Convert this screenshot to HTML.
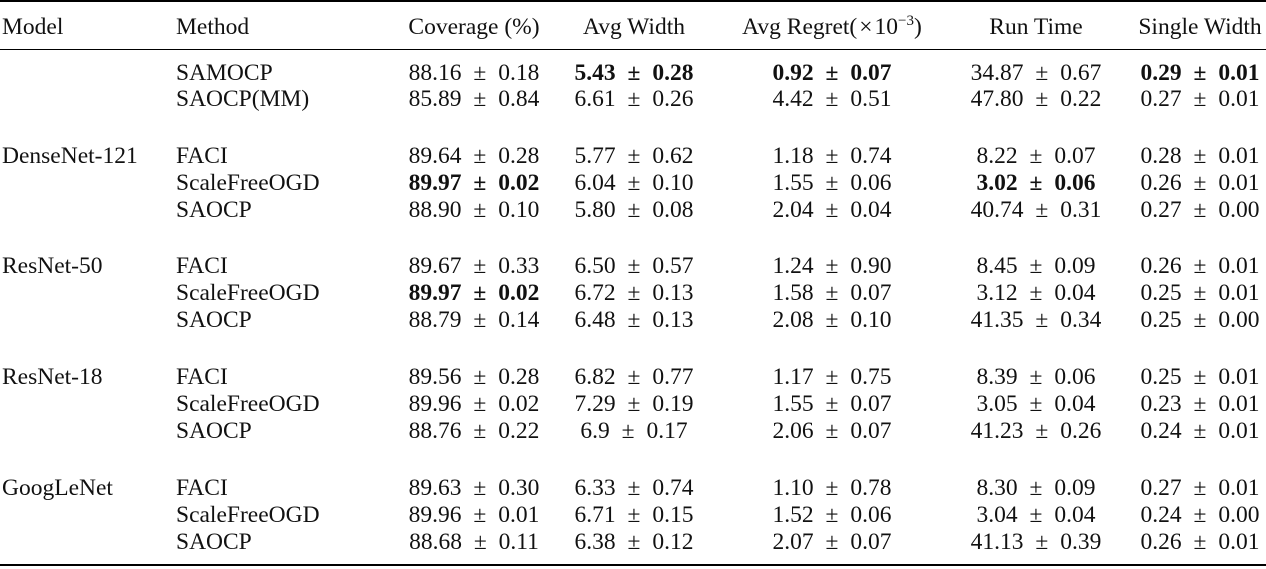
<!DOCTYPE html>
<html><head><style>
body{margin:0;width:1266px;height:569px;background:#fff;position:relative;overflow:hidden;font-family:"Liberation Serif",serif;font-size:23.5px;color:#111}
.r{position:absolute;left:0;width:1266px;background:#000}
.t{position:absolute;white-space:nowrap;line-height:26px;transform:translateY(-13px)}
.c{transform:translate(-50%,-13px)}
.pm{margin:0 6px}
b{font-weight:bold}
sup{font-size:15px;vertical-align:9px;line-height:0}
</style></head><body>
<div class="r" style="top:0;height:2px"></div>
<div class="r" style="top:49px;height:1px"></div>
<div class="r" style="top:564px;height:2px"></div>
<div id="g"></div>
<script>
const cols=[474,634,832,1036,1200];
const H=["Coverage (%)","Avg Width","Avg Regret(<span class='pm' style='margin:0 2px'>×</span>10<sup>−3</sup>)","Run Time","Single Width"];
let h='';
function L(x,y,s){h+=`<div class="t" style="left:${x}px;top:${y}px">${s}</div>`}
function C(x,y,s){h+=`<div class="t c" style="left:${x}px;top:${y}px">${s}</div>`}
L(2,27,"Model");L(176,27,"Method");H.forEach((s,i)=>C(cols[i],27,s));
const P=" <span class='pm'>±</span> ";
const rows=[
["",73,"SAMOCP",["88.16±0.18","<b>5.43±0.28</b>","<b>0.92±0.07</b>","34.87±0.67","<b>0.29±0.01</b>"]],
["",99,"SAOCP(MM)",["85.89±0.84","6.61±0.26","4.42±0.51","47.80±0.22","0.27±0.01"]],
["DenseNet-121",156,"FACI",["89.64±0.28","5.77±0.62","1.18±0.74","8.22±0.07","0.28±0.01"]],
["",183,"ScaleFreeOGD",["<b>89.97±0.02</b>","6.04±0.10","1.55±0.06","<b>3.02±0.06</b>","0.26±0.01"]],
["",210,"SAOCP",["88.90±0.10","5.80±0.08","2.04±0.04","40.74±0.31","0.27±0.00"]],
["ResNet-50",266,"FACI",["89.67±0.33","6.50±0.57","1.24±0.90","8.45±0.09","0.26±0.01"]],
["",293,"ScaleFreeOGD",["<b>89.97±0.02</b>","6.72±0.13","1.58±0.07","3.12±0.04","0.25±0.01"]],
["",320,"SAOCP",["88.79±0.14","6.48±0.13","2.08±0.10","41.35±0.34","0.25±0.00"]],
["ResNet-18",377,"FACI",["89.56±0.28","6.82±0.77","1.17±0.75","8.39±0.06","0.25±0.01"]],
["",404,"ScaleFreeOGD",["89.96±0.02","7.29±0.19","1.55±0.07","3.05±0.04","0.23±0.01"]],
["",431,"SAOCP",["88.76±0.22","6.9±0.17","2.06±0.07","41.23±0.26","0.24±0.01"]],
["GoogLeNet",488,"FACI",["89.63±0.30","6.33±0.74","1.10±0.78","8.30±0.09","0.27±0.01"]],
["",515,"ScaleFreeOGD",["89.96±0.01","6.71±0.15","1.52±0.06","3.04±0.04","0.24±0.00"]],
["",542,"SAOCP",["88.68±0.11","6.38±0.12","2.07±0.07","41.13±0.39","0.26±0.01"]]];
rows.forEach(r=>{if(r[0])L(2,r[1],r[0]);L(176,r[1],r[2]);r[3].forEach((s,i)=>C(cols[i],r[1],s.replace("±",P)))});
document.getElementById('g').innerHTML=h;
</script>
</body></html>
